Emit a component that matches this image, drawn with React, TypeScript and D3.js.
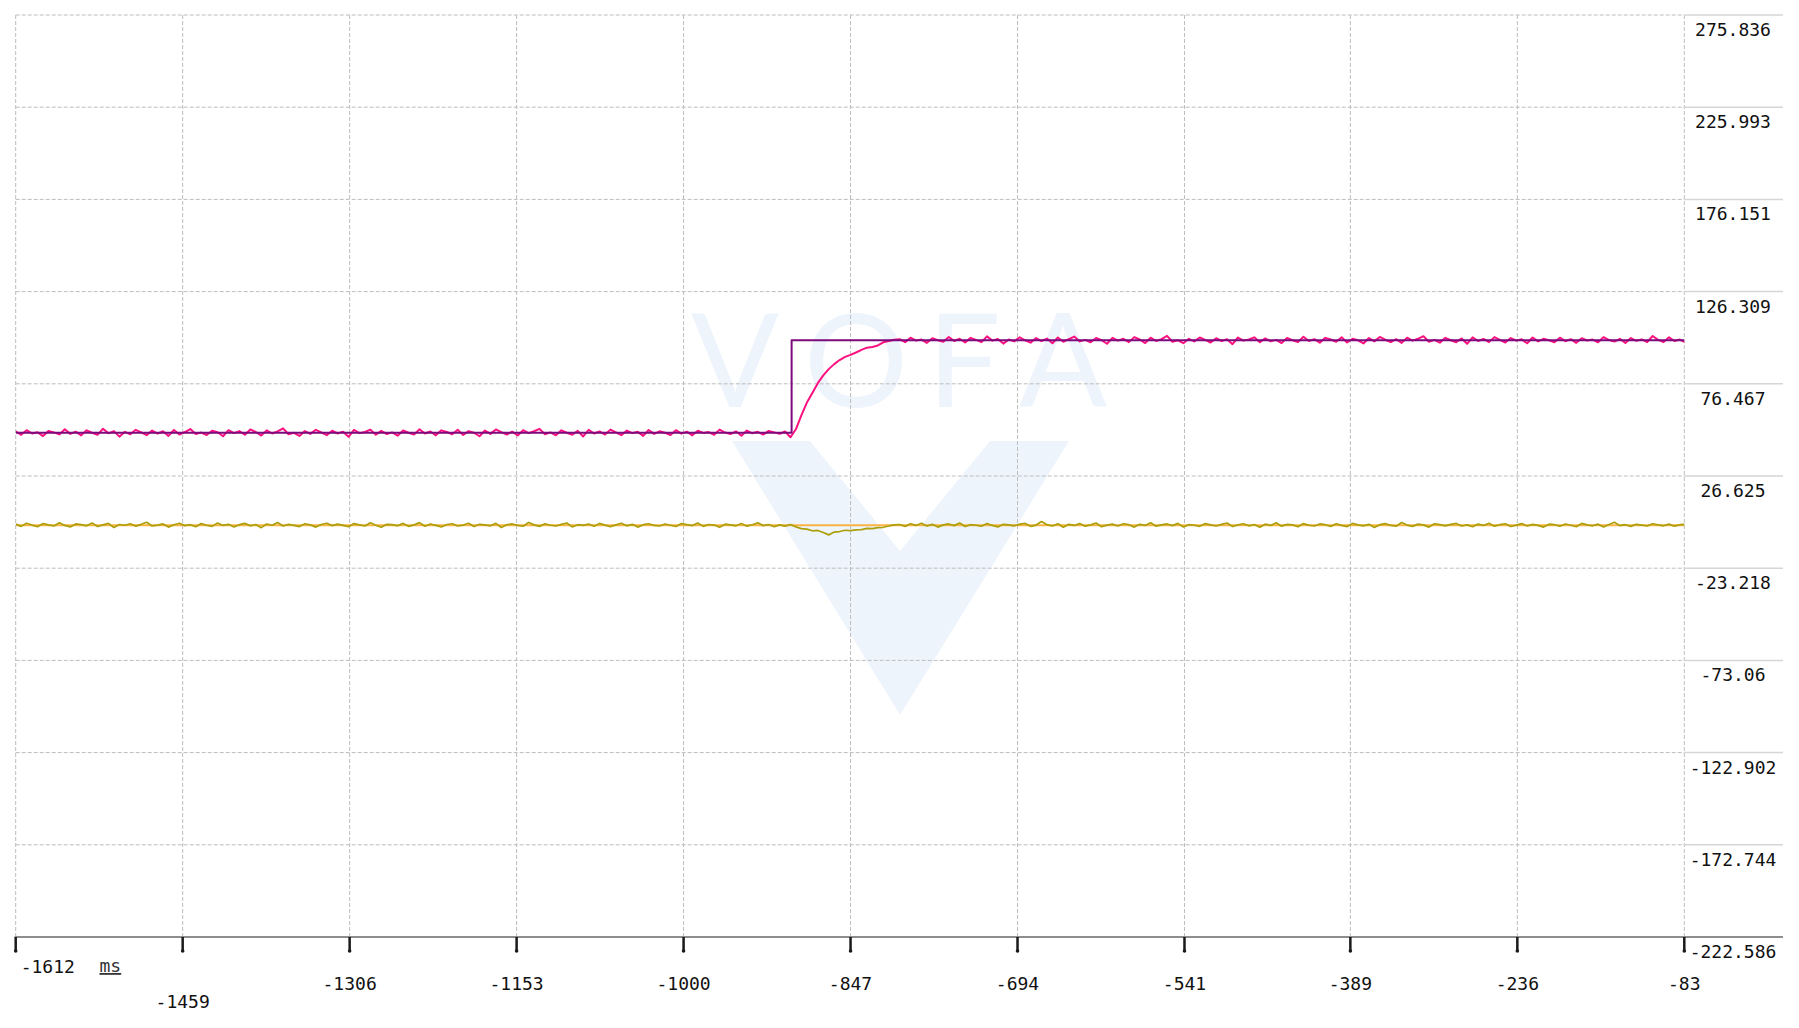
import React from 'react';
import * as d3 from 'd3';

// ---------- data ----------
const X_TICKS = [-1612, -1459, -1306, -1153, -1000, -847, -694, -541, -389, -236, -83];
const X_UNIT = 'ms';
const Y_TICKS = [275.836, 225.993, 176.151, 126.309, 76.467, 26.625, -23.218, -73.06, -122.902, -172.744, -222.586];
const Y_TICK_LABELS = ['275.836', '225.993', '176.151', '126.309', '76.467', '26.625', '-23.218', '-73.06', '-122.902', '-172.744', '-222.586'];

// sampled channels: first sample at -1612 ms, one sample every 5 ms
const SAMPLE_START_MS = -1612;
const SAMPLE_STEP_MS = 5;

const FEEDBACK = [
  50.8, 48.9, 51.4, 49.6, 50.3, 48.2, 51.0, 50.2, 49.1, 51.9, 49.4, 50.6, 48.6, 51.3, 50.0, 48.9, 52.2, 49.7, 50.9, 47.9,
  50.5, 49.2, 51.6, 50.2, 48.7, 51.2, 49.5, 50.8, 48.3, 51.5, 49.0, 50.4, 52.0, 49.3, 50.1, 48.8, 51.1, 50.3, 48.1, 51.4,
  49.8, 50.9, 48.9, 51.8, 50.4, 48.5, 51.3, 49.6, 50.7, 52.4, 49.2, 50.0, 48.3, 50.9, 49.4, 51.6, 50.2, 48.7, 51.1, 49.6,
  50.6, 47.8, 51.5, 49.8, 50.4, 51.7, 48.9, 51.0, 49.3, 50.2, 48.4, 51.2, 50.0, 49.0, 51.9, 49.6, 50.7, 48.6, 51.3, 50.4,
  49.2, 51.6, 48.8, 50.9, 50.0, 48.1, 51.2, 49.4, 51.8, 50.3, 49.0, 50.6, 48.5, 51.4, 49.8, 50.8, 52.1, 49.2, 50.2, 48.6,
  51.3, 50.0, 48.9, 51.0, 48.0, 51.6, 49.6, 50.7, 49.0, 51.7, 50.2, 48.7, 51.2, 49.8, 50.5, 48.3, 51.5, 49.4, 50.8, 50.0,
  48.8, 51.4, 49.5, 50.6, 48.6, 51.1, 49.9, 50.4, 48.9, 51.7, 50.1, 49.3, 50.8, 48.4, 51.2, 49.7, 50.5, 49.0, 51.0, 50.2,
  49.4, 50.7, 47.6,
  52.0, 59.5, 66.3, 71.5, 76.8, 81.0, 84.4, 87.1, 89.3, 91.0, 92.1, 93.4, 94.8, 96.0, 96.4, 97.2, 98.9, 99.6, 100.3,
  100.6, 99.0, 101.4, 99.8, 100.4, 98.6, 101.1, 100.0, 99.2, 101.8, 99.6, 100.8, 98.8, 101.3, 100.2, 99.0, 102.1, 99.8, 100.7, 98.2,
  100.4, 99.4, 101.6, 100.0, 98.7, 101.2, 99.6, 100.9, 98.4, 101.5, 99.2, 100.6, 102.0, 99.4, 100.2, 98.9, 101.2, 100.0, 98.1, 101.3,
  99.8, 100.8, 99.0, 101.7, 100.4, 98.5, 101.4, 99.6, 100.6, 102.4, 99.2, 100.0, 98.4, 100.8, 99.4, 101.5, 100.2, 98.8, 101.1, 99.6,
  100.6, 97.9, 101.5, 99.8, 100.4, 101.6, 98.9, 101.0, 99.4, 100.2, 98.5, 101.2, 100.0, 99.0, 101.9, 99.6, 100.6, 98.7, 101.3, 100.4,
  99.2, 101.6, 98.8, 100.8, 100.0, 98.3, 101.2, 99.4, 101.8, 100.3, 99.0, 100.6, 98.6, 101.4, 99.8, 100.8, 102.2, 99.2, 100.2, 98.7,
  101.3, 100.0, 98.9, 101.0, 98.1, 101.6, 99.6, 100.7, 99.0, 101.7, 100.2, 98.8, 101.2, 99.8, 100.5, 98.4, 101.5, 99.4, 100.8, 100.0,
  98.9, 101.4, 99.5, 100.6, 98.6, 101.1, 99.9, 100.4, 98.9, 101.7, 100.1, 99.3, 100.8, 98.5, 101.2, 99.7, 100.5, 99.0, 102.3, 100.2,
  99.0, 101.6, 99.6, 100.4, 98.8,
];

const ERROR_CH = [
  0.6, -0.6, 1.1, 0.1, -0.8, 0.9, 0.2, -0.4, 1.4, -0.1, -0.9, 0.7, 0.3, -0.3, 1.2, -0.7, 0.2, 1.0, -1.2, 0.4,
  0.0, 0.8, -0.5, 0.5, 1.6, -0.4, 0.1, 0.7, -1.0, 0.3, 1.1, -0.2, 0.3, -0.8, 0.9, 0.0, -0.6, 1.2, -0.1, 0.5,
  -0.9, 0.3, 1.0, -0.3, 0.4, -1.3, 0.7, 0.0, 1.5, -0.4, 0.5, -0.1, -0.7, 0.8, 0.2, -1.0, 0.4, 1.1, -0.2, 0.6,
  -0.1, -0.8, 0.9, 0.2, -0.4, 1.3, 0.0, -1.1, 0.5, 0.3, -0.3, 1.0, -0.6, 0.2, 1.4, -0.5, 0.7, -0.1, -0.9, 0.4,
  0.8, -0.4, 0.1, 1.1, -0.7, 0.5, 0.2, -0.3, 1.0, -1.2, 0.3, 0.7, -0.1, -0.5, 1.5, 0.2, -0.6, 0.8, 0.0, -0.4,
  0.5, 1.2, -0.9, 0.3, -0.1, 0.7, -0.5, 1.0, 0.1, -0.8, 0.2, 1.1, -0.3, 0.5, -1.0, 0.3, 0.8, -0.1, -0.4, 0.7,
  0.0, -0.7, 0.9, 0.3, -0.2, 1.2, -0.6, 0.4, 0.1, -1.1, 0.6, 0.2, -0.3, 0.9, -0.5, 0.3, 1.3, -0.2, 0.4, -0.8,
  0.2, -0.5, 0.4,
  -0.9, -1.8, -2.1, -3.0, -2.8, -3.9, -5.2, -3.7, -3.4, -2.7, -2.9, -2.5, -2.4, -1.7, -1.8, -1.3, -1.1, -0.4, 0.2,
  0.4, -0.6, 0.8, -0.1, 1.1, -0.4, 0.5, -1.0, 0.2, 0.7, -0.2, 1.2, -0.7, 0.3, 0.0, -0.5, 0.9, -0.1, -0.9, 0.5,
  0.2, -0.3, 0.6, 1.0, -0.6, 0.1, 2.0, 0.3, -0.4, 0.8, -1.1, 0.5, -0.1, 0.9, -0.5, 0.2, 1.2, -0.8, 0.1, 0.6,
  -0.4, 0.8, 0.3, -1.0, 0.5, -0.1, 1.3, -0.5, 0.2, 0.7, -0.2, 1.0, -0.9, 0.3, 0.0, -0.6, 0.9, 0.2, -0.4, 0.5,
  1.2, -0.7, 0.2, 0.8, -0.3, 0.4, -1.1, 0.6, -0.1, 1.4, -0.5, 0.5, 0.2, -0.8, 0.9, 0.0, -0.4, 0.7, 0.3, -0.6,
  0.8, -0.1, -0.7, 1.0, 0.2, -0.3, 0.5, -1.2, 0.3, 0.9, -0.1, -0.5, 1.5, 0.1, -0.6, 0.6, 0.2, -1.0, 0.8, 0.3,
  -0.3, 0.5, 1.0, -0.4, 0.2, -0.8, 0.6, -0.1, 1.1, -0.5, 0.3, 0.8, -0.7, 0.1, 0.9, -0.4, 0.5, -0.1, -1.0, 0.6,
  0.3, -0.5, 0.7, 0.0, -0.8, 1.0, 0.2, -0.3, 0.6, -0.9, 0.4, 1.6, -0.2, 0.3, -0.6, 0.5, 0.1, -0.4, 0.8, 0.2,
  -0.3, 0.6, -0.5, 0.3, 0.5,
];

const SETPOINT_T = [-1612, -901, -901, -83];
const SETPOINT_V = [50, 50, 100, 100];
const ZERO_T = [-1612, -83];
const ZERO_V = [0, 0];

// ---------- layout ----------
const W = 1799;
const H = 1028;
const LEFT = 15.7;
const RIGHT = 1684.3;
const TOP = 15;
const BOTTOM = 937;
const AXIS_END = 1783;
const MONO = '"DejaVu Sans Mono", "Liberation Mono", monospace';

const COLORS = {
  feedback: '#fc1180',
  setpoint: '#7c0a7c',
  error: '#ab9f0c',
  zero: '#fbb444',
  watermark: '#eef4fc',
};

export default function App() {
  const x = d3.scaleLinear().domain([X_TICKS[0], X_TICKS[X_TICKS.length - 1]]).range([LEFT, RIGHT]);
  const y = d3.scaleLinear().domain([Y_TICKS[Y_TICKS.length - 1], Y_TICKS[0]]).range([BOTTOM, TOP]);

  const sampled = (vals: number[]) => vals.map((v, i) => [SAMPLE_START_MS + i * SAMPLE_STEP_MS, v] as [number, number]);
  const paired = (ts: number[], vs: number[]) => ts.map((t, i) => [t, vs[i]] as [number, number]);

  const line = d3.line<[number, number]>().x((d) => x(d[0])).y((d) => y(d[1]));

  const fbPath = line(sampled(FEEDBACK)) || '';
  const errPath = line(sampled(ERROR_CH)) || '';
  const spPath = line(paired(SETPOINT_T, SETPOINT_V)) || '';
  const zeroPath = line(paired(ZERO_T, ZERO_V)) || '';

  const letters = [
    { ch: 'V', cx: 735 },
    { ch: 'O', cx: 856 },
    { ch: 'F', cx: 964 },
    { ch: 'A', cx: 1063 },
  ];

  return (
    <div style={{ position: 'fixed', left: 0, top: 0, width: W, height: H, overflow: 'hidden', background: '#fff' }}>
      <svg width={W} height={H} style={{ display: 'block' }}>
        <defs>
          <clipPath id="plotClip">
            <rect x={LEFT} y={TOP} width={RIGHT - LEFT} height={BOTTOM - TOP} />
          </clipPath>
        </defs>
        <rect x={0} y={0} width={W} height={H} fill="#fff" />

        {/* watermark */}
        <g fill={COLORS.watermark}>
          {letters.map((l) => (
            <text key={l.ch} x={l.cx} y={407} textAnchor="middle" fontSize={130} fontWeight={400}
              fontFamily='Lato, "Open Sans", sans-serif'>{l.ch}</text>
          ))}
          <path d="M732,441 L810,441 L900,551 L990,441 L1069,441 L900,715 Z" />
        </g>

        {/* grid */}
        <g>
          {Y_TICKS.slice(0, -1).map((t) => (
            <line key={'hy' + t} x1={LEFT} x2={RIGHT} y1={y(t)} y2={y(t)} stroke="#bdbdbd" strokeWidth={1} strokeDasharray="4 2" />
          ))}
          {X_TICKS.map((t) => (
            <line key={'vx' + t} x1={x(t)} x2={x(t)} y1={TOP} y2={BOTTOM} stroke="#bdbdbd" strokeWidth={1} strokeDasharray="4 2" />
          ))}
          {Y_TICKS.slice(0, -1).map((t) => (
            <line key={'ry' + t} x1={RIGHT} x2={AXIS_END} y1={y(t)} y2={y(t)} stroke="#d6d6d6" strokeWidth={1.5} />
          ))}
          <line x1={LEFT - 1} x2={AXIS_END} y1={BOTTOM} y2={BOTTOM} stroke="#8e8e8e" strokeWidth={2} />
        </g>

        {/* series */}
        <g clipPath="url(#plotClip)" fill="none" strokeLinejoin="round">
          <path d={fbPath} stroke={COLORS.feedback} strokeWidth={2} />
          <path d={spPath} stroke={COLORS.setpoint} strokeWidth={2} />
          <path d={zeroPath} stroke={COLORS.zero} strokeWidth={2} />
          <path d={errPath} stroke={COLORS.error} strokeWidth={1.7} />
        </g>

        {/* y labels (right) */}
        <g fontFamily={MONO} fontSize={18} fill="#111" textAnchor="middle">
          {Y_TICKS.map((t, i) => (
            <text key={'yl' + t} x={1733} y={y(t) + 21}>{Y_TICK_LABELS[i]}</text>
          ))}
        </g>

        {/* x ticks */}
        <g>
          {X_TICKS.map((t) => (
            <g key={'xt' + t}>
              <line x1={x(t)} x2={x(t)} y1={BOTTOM} y2={BOTTOM + 14} stroke="#1a1a1a" strokeWidth={2.5} />
              <circle cx={x(t)} cy={BOTTOM + 14} r={1.8} fill="#1a1a1a" />
            </g>
          ))}
        </g>
        <g fontFamily={MONO} fontSize={18} fill="#111">
          {X_TICKS.map((t, i) => {
            if (i === 0) {
              return <text key={'xl' + t} x={x(t) + 5} y={973} textAnchor="start">{String(t)}</text>;
            }
            const yy = i === 1 ? 1008 : 990;
            return <text key={'xl' + t} x={x(t)} y={yy} textAnchor="middle">{String(t)}</text>;
          })}
          <text x={99.5} y={972} fill="#333" textDecoration="underline">{X_UNIT}</text>
        </g>
      </svg>
    </div>
  );
}
